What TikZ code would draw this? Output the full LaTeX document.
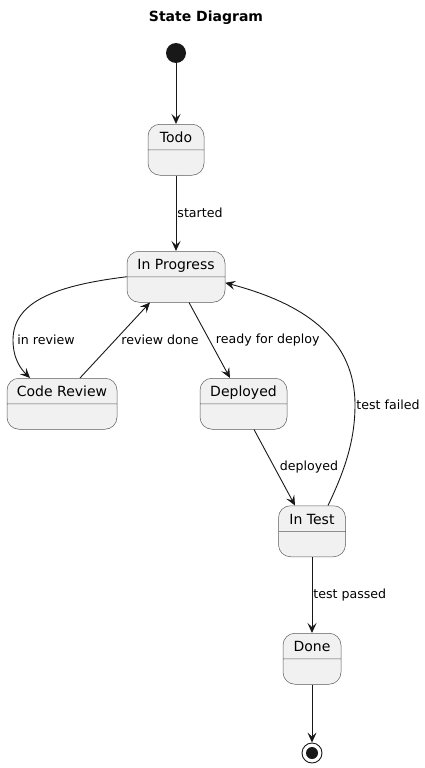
\documentclass[tikz,border=0pt]{standalone}
\usepackage{fontspec}
\setmainfont{DejaVu Sans}
\usetikzlibrary{arrows.meta}
\usetikzlibrary{shapes.multipart}

\definecolor{statefill}{HTML}{F1F1F1}
\definecolor{stateline}{HTML}{5A5A5A}
\definecolor{arrowline}{HTML}{181818}

\begin{document}
\begin{tikzpicture}[x=1pt, y=-1pt,
    state/.style={rectangle split, rectangle split parts=2, draw=stateline, fill=statefill,
        rounded corners=12pt, line width=0.5pt, font=\fontsize{14}{16}\selectfont,
        inner xsep=4pt, inner ysep=6pt, text height=12pt, text depth=1pt,
        rectangle split empty part height=12pt, rectangle split empty part depth=1pt, anchor=north},
    tr/.style={draw=arrowline, line width=0.9pt, -{Stealth[length=10pt, width=9pt, inset=4pt]}},
    lbl/.style={font=\fontsize{12.6}{15}\selectfont, inner sep=1pt, text=black}]
    % Rahmen
    \useasboundingbox (0,0) rectangle (425,768);
    \node[font=\bfseries\fontsize{14}{16}\selectfont] (title) at (206,18) {State Diagram};

    % Zustaende
    \node[circle, fill=arrowline, minimum size=20pt, inner sep=0pt] (start) at (176,53) {};
    \node[state, minimum width=56pt] (todo) at (176,124) {Todo \nodepart{two}};
    \node[state, minimum width=98pt] (progress) at (176,251) {In Progress \nodepart{two}};
    \node[state, minimum width=110pt] (review) at (62,378) {Code Review \nodepart{two}};
    \node[state, minimum width=87pt] (deployed) at (243.5,378) {Deployed \nodepart{two}};
    \node[state, minimum width=67pt] (intest) at (312,505.5) {In Test \nodepart{two}};
    \node[state, minimum width=58pt] (done) at (312,633) {Done \nodepart{two}};
    \node[circle, draw=arrowline, line width=0.9pt, minimum size=20pt, inner sep=0pt,
        path picture={\fill[arrowline] (path picture bounding box.center) circle (6pt);}] (stop) at (312,753) {};

    % Uebergaenge
    \draw[tr] (start) -- (todo);
    \draw[tr] (todo) -- node[lbl, right] {started} (progress);
    \draw[tr] (progress.west) .. controls (60,285) and (13,300) .. (13,340)
        node[lbl, right=3pt] {in review}
        .. controls (13,360) and (22,370) .. ([xshift=-32pt]review.north);
    \draw[tr] ([xshift=18pt]review.north) -- node[lbl, right=5pt] {review done} ([xshift=-26pt]progress.south);
    \draw[tr] ([xshift=13pt]progress.south) -- node[lbl, right=5pt] {ready for deploy} ([xshift=-13.5pt]deployed.north);
    \draw[tr] ([xshift=10.5pt]deployed.south) -- node[lbl, right=4pt] {deployed} ([xshift=-17pt]intest.north);
    \draw[tr] ([xshift=16pt]intest.north) .. controls (345,470) and (355,440) .. (355,405)
        node[lbl, right=0pt] {test failed}
        .. controls (355,330) and (290,300) .. ([yshift=-6pt]progress.east);
    \draw[tr] (intest) -- node[lbl, right] {test passed} (done);
    \draw[tr] (done) -- (stop);
\end{tikzpicture}
\end{document}
